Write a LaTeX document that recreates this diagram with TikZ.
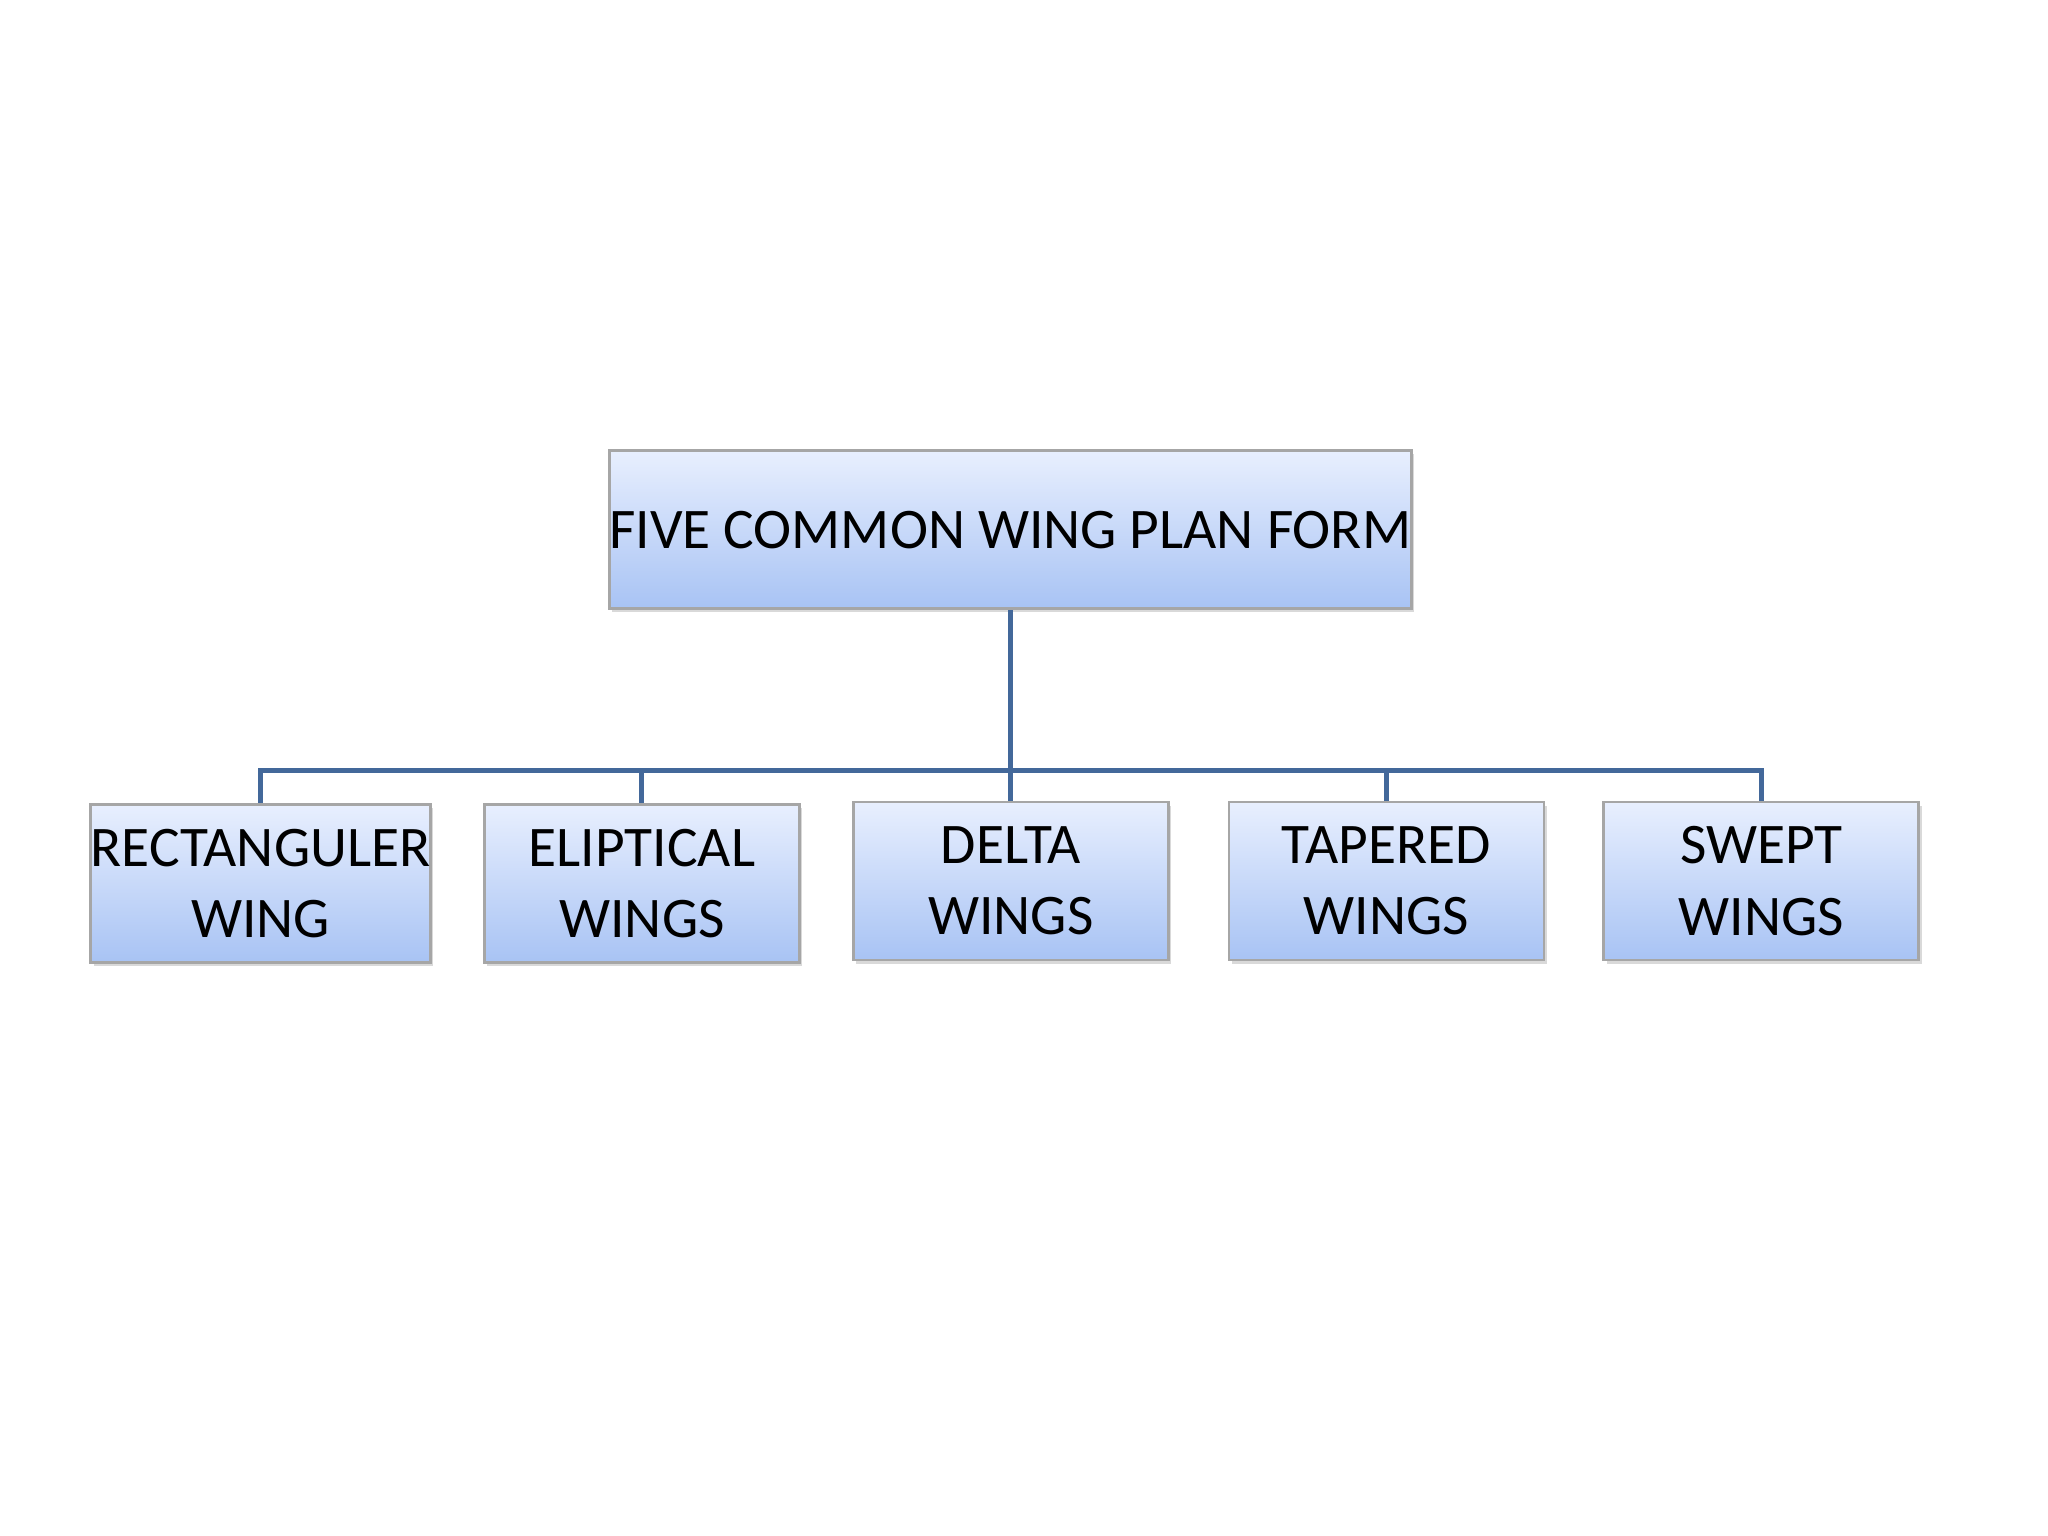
\documentclass[tikz,border=0pt]{standalone}
\usepackage{fontspec}
\setmainfont{Carlito}
\usetikzlibrary{shadows}
\definecolor{topc}{HTML}{E8EFFE}
\definecolor{botc}{HTML}{A8C3F4}
\definecolor{linec}{HTML}{43689A}
\begin{document}
\begin{tikzpicture}[x=0.01cm,y=-0.01cm,
  box/.style={draw=gray!70,line width=0.6pt,top color=topc,bottom color=botc,
    minimum width=2.41cm,minimum height=1.21cm,align=center,inner sep=0pt,
    font=\fontsize{12.5}{15.5}\selectfont,
    drop shadow={shadow xshift=0.6pt,shadow yshift=-0.8pt,opacity=0.3}},
  conn/.style={draw=linec,line width=1.1pt}]
\useasboundingbox (0,0) rectangle (1568,1176);
\node[box,minimum width=6.01cm] (top) at (773.5,405.5) {FIVE COMMON WING PLAN FORM};
\node[box] (b1) at (199.5,676.5) {RECTANGULER\\WING};
\node[box] (b2) at (491.5,676.5) {ELIPTICAL\\WINGS};
\node[box] (b3) at (774,674.5) {DELTA\\WINGS};
\node[box] (b4) at (1061.5,674.5) {TAPERED\\WINGS};
\node[box] (b5) at (1348.5,674.5) {SWEPT\\WINGS};
\coordinate (j) at (773.5,590);
\draw[conn] (top.south) -- (j);
\foreach \b in {b1,b2,b3,b4,b5}{
  \draw[conn] (j) -| (\b.north);
}
\end{tikzpicture}
\end{document}
